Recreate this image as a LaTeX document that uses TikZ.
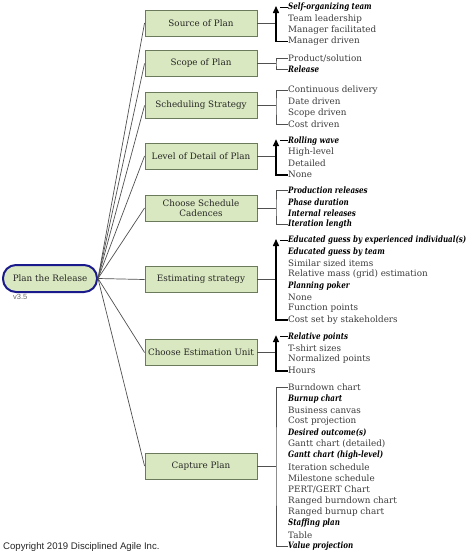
\documentclass[tikz,border=0pt]{standalone}
\usepackage{fontspec}
\setmainfont{DejaVu Serif}
\newfontfamily\sansf{Liberation Sans}
\newfontfamily\condf[FakeStretch=0.9]{DejaVu Serif Condensed}
\usetikzlibrary{arrows.meta}
\definecolor{boxfill}{HTML}{D9E8C0}
\definecolor{boxdraw}{HTML}{6B7A5A}
\definecolor{navy}{HTML}{1A1A8C}
\definecolor{itemtxt}{HTML}{3A3A3A}
\definecolor{conncol}{HTML}{505050}
\newcommand\bi[1]{\textcolor{black}{\condf\bfseries\itshape #1}}
\newcommand\mkgroup[6]{%
  \node[catbox] (#1) at (201,#2) {#3};
  \foreach \t [count=\i] in {#6} {\node[itemnode] (#1-\i) at (287.5,{#4+(\i-1)*11.35}) {\t}; \xdef\nlast{\i}}
  \coordinate (#1-b) at (276,#2);
  \draw[conn] (#1.east) -- (#1-b);
  \ifnum#5=1
    \coordinate (#1-t) at (276,{#4-1.5});
    \coordinate (#1-tk) at (279.5,#4);
    \draw[abrk,-{Triangle[length=7pt,width=6pt]}] (#1-\nlast.west) -| (#1-t);
    \draw[abrk] (#1-1.west) -- (#1-tk);
  \else
    \draw[brk] (#1-1.west) -| (#1-b) |- (#1-\nlast.west);
  \fi
  \draw[spoke] (root.east) -- (#1.west);
}
\begin{document}
\begin{tikzpicture}[x=1pt,y=-1pt,
  font=\fontsize{8.8}{10.2}\selectfont,
  catbox/.style={draw=boxdraw,fill=boxfill,line width=0.9pt,minimum width=112pt,minimum height=26pt,inner sep=1pt,align=center,text=black!85},
  itemnode/.style={anchor=west,inner sep=0.5pt,text=itemtxt},
  conn/.style={draw=conncol,line width=0.7pt},
  brk/.style={draw=conncol,line width=0.7pt},
  abrk/.style={draw=black,line width=1.5pt},
  spoke/.style={draw=conncol,line width=0.7pt}]
\useasboundingbox (0,0) rectangle (474,555);
\node[draw=navy,fill=boxfill,line width=2pt,rounded corners=13pt,minimum width=94pt,minimum height=27pt,inner sep=1pt,text=black!85] (root) at (50,278.5) {Plan the Release};
\node[anchor=west,inner sep=0pt,font=\sansf\fontsize{7.5}{9}\selectfont,text=black!60] (ver) at (13,297) {v3.5};
\node[anchor=west,inner sep=0pt,font=\sansf\fontsize{9.6}{11}\selectfont,text=black!85] (copy) at (3,547) {Copyright 2019 Disciplined Agile Inc.};
\mkgroup{src}{23}{Source of Plan}{7.5}{1}{\bi{Self-organizing team},Team leadership,Manager facilitated,Manager driven}
\mkgroup{scope}{63.5}{Scope of Plan}{58.3}{0}{Product/solution,\bi{Release}}
\mkgroup{sched}{105.5}{Scheduling Strategy}{90}{0}{Continuous delivery,Date driven,Scope driven,Cost driven}
\mkgroup{lod}{156}{Level of Detail of Plan}{140.7}{1}{\bi{Rolling wave},High-level,Detailed,None}
\mkgroup{cad}{208}{Choose Schedule\\Cadences}{190.5}{0}{\bi{Production releases},\bi{Phase duration},\bi{Internal releases},\bi{Iteration length}}
\mkgroup{est}{279.5}{Estimating strategy}{240.5}{1}{\bi{Educated guess by experienced individual(s)},\bi{Educated guess by team},Similar sized items,Relative mass (grid) estimation,\bi{Planning poker},None,Function points,Cost set by stakeholders}
\mkgroup{unit}{352.5}{Choose Estimation Unit}{336.7}{1}{\bi{Relative points},T-shirt sizes,Normalized points,Hours}
\mkgroup{cap}{466}{Capture Plan}{387.3}{0}{Burndown chart,\bi{Burnup chart},Business canvas,Cost projection,\bi{Desired outcome(s)},Gantt chart (detailed),\bi{Gantt chart (high-level)},Iteration schedule,Milestone schedule,PERT/GERT Chart,Ranged burndown chart,Ranged burnup chart,\bi{Staffing plan},Table,\bi{Value projection}}
\end{tikzpicture}
\end{document}
